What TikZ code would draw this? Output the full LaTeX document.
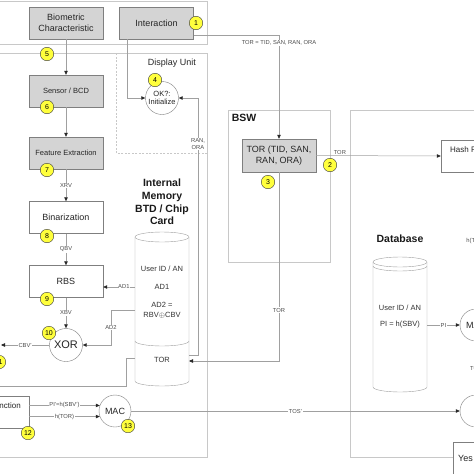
\documentclass[tikz,border=0pt]{standalone}
\usepackage{fontspec}
\setmainfont{Liberation Sans}
\usetikzlibrary{arrows.meta}

\definecolor{framegray}{HTML}{C8C8C8}
\definecolor{linegray}{HTML}{A0A0A0}
\definecolor{boxline}{HTML}{7F7F7F}
\definecolor{boxfill}{HTML}{D4D4D4}
\definecolor{dotyellow}{HTML}{FFFF3C}
\newcommand\fsz[2]{\fontsize{#1}{#2}\selectfont}

\tikzset{
  blk/.style={draw=boxline,fill=boxfill,minimum width=74pt,minimum height=32pt,inner sep=1pt,align=center,text=black!85},
  wblk/.style={blk,fill=white},
  rnd/.style={circle,draw=boxline,fill=white,minimum size=33pt,inner sep=0pt,align=center,text=black!85},
  conn/.style={draw=linegray,line width=0.5pt},
  arr/.style={conn,-{Triangle[length=4pt,width=3.5pt,color=black!85]}},
  lbl/.style={fill=white,inner sep=0.6pt,text=black!70,font=\fsz{5.8}{6.6}},
  frm/.style={draw=framegray,line width=0.7pt},
  ttl/.style={font=\bfseries\fsz{10.5}{12.6},align=center,text=black!90},
  cyltxt/.style={align=center,text=black!80,font=\fsz{7.5}{10}},
  ndot/.style={circle,draw=black!75,fill=dotyellow,minimum size=13.5pt,inner sep=0pt,font=\fsz{7}{8}},
}

\begin{document}
\begin{tikzpicture}[x=1pt,y=-1pt]
\newcommand\numdot[3]{\node[ndot] (#1) at (#2) {#3};}
\clip (0,0) rectangle (474,474);
% frames
\draw[frm] (-10,1.5) rectangle (207,44);
\draw[frm] (-10,53) rectangle (207,457);
\draw[frm,dash pattern=on 2pt off 1.5pt] (207,153) -- (116,153) -- (116,53);
\draw[frm] (228,110) rectangle (330,262);
\draw[frm] (350,110) rectangle (520,457);
\node[ttl] (bsw) at (244,118) {BSW};
\node[text=black!85,font=\fsz{9}{11}] (dunit) at (172,63) {Display Unit};
\node[ttl] (memory) at (162,202) {Internal\\Memory\\BTD / Chip\\Card};
\node[ttl] (database) at (400,239) {Database};

% internal memory
\draw[draw=linegray,fill=white] (135,237) -- (135,381) arc[start angle=180,end angle=360,x radius=27pt,y radius=5pt] -- (189,237);
\draw[draw=linegray,fill=white] (162,237) ellipse[x radius=27pt,y radius=5pt];
\draw[draw=linegray] (135,341) arc[start angle=180,end angle=360,x radius=27pt,y radius=5pt];
\coordinate (memW) at (135,0);
\coordinate (memE) at (189,0);
\node[cyltxt] (uid) at (162,269) {User ID / AN};
\node[cyltxt] (ad1) at (162,287) {AD1};
\node[cyltxt] (ad2) at (162,310) {AD2 =\\RBV$\oplus$CBV};
\node[cyltxt] (tortxt) at (162,360) {TOR};

% database
\draw[draw=linegray,fill=white] (373,262) -- (373,387) arc[start angle=180,end angle=360,x radius=27pt,y radius=5pt] -- (427,262);
\draw[draw=linegray,fill=white] (400,262) ellipse[x radius=27pt,y radius=5pt];
\draw[draw=linegray] (373,266) arc[start angle=180,end angle=360,x radius=27pt,y radius=5pt];
\coordinate (dbE) at (427,0);
\node[cyltxt] (dbuid) at (400,308) {User ID / AN};
\node[cyltxt] (dbpi) at (400,325) {PI = h(SBV)};

% blocks
\node[blk,font=\fsz{9}{11}] (bio) at (66,23) {Biometric\\Characteristic};
\node[blk,font=\fsz{9}{11}] (inter) at (156.5,23) {Interaction};
\node[blk,font=\fsz{7.5}{9}] (sensor) at (66,91) {Sensor / BCD};
\node[blk,font=\fsz{7.5}{9}] (feature) at (66,153) {Feature Extraction};
\node[wblk,font=\fsz{9}{11}] (binar) at (66,217.5) {Binarization};
\node[wblk,font=\fsz{9}{11}] (rbs) at (66,281.5) {RBS};
\node[rnd,font=\fsz{11}{13}] (xor) at (66,345) {XOR};
\node[rnd,font=\fsz{7.5}{8.5}] (okinit) at (162,98) {OK?:\\Initialize};
\node[blk,font=\fsz{9}{11},minimum height=33pt] (tor) at (279,155.5) {TOR (TID, SAN,\\RAN, ORA)};
\node[wblk,font=\fsz{8}{12},minimum width=70pt] (hashr) at (476,156) {Hash Function\\h};
\node[wblk,font=\fsz{8}{12},minimum width=68pt] (hashl) at (-5,412) {Hash Function\\h};
\node[rnd,font=\fsz{9}{11},minimum size=32pt] (macl) at (115,411) {MAC};
\node[rnd,font=\fsz{9}{11},minimum size=32pt] (macr) at (476,325) {MAC};
\node[rnd,minimum size=32pt] (cmp) at (476,411) {};
\node[wblk,anchor=north west,minimum width=50pt,text width=40pt,align=left,font=\fsz{9}{11}] (yes) at (453,442) {Yes};
\coordinate (cbvin) at (1,345);
\coordinate (torleft) at (-12,386);
\coordinate (ranout) at (189,355);
\coordinate (torin) at (189,361);

% connectors
\draw[arr] (bio) -- (sensor);
\draw[arr] (sensor) -- (feature);
\draw[arr] (feature) -- node[lbl]{XRV} (binar);
\draw[arr] (binar) -- node[lbl]{QBV} (rbs);
\draw[arr] (rbs) -- node[lbl]{XBV} (xor);
\draw[arr] (xor) -- node[lbl]{CBV'} (cbvin);
\draw[arr] (memW |- ad1) -- node[lbl,pos=0.35]{AD1} (rbs.east |- ad1);
\draw[arr] (memW |- ad2) -- ++(-24,0) |- node[lbl,pos=0.25]{AD2} (xor.east);
\draw[conn] (memW |- 0,358) -- ++(-9,0) |- (torleft);
\draw[arr] ([xshift=8pt]inter.south west) |- (okinit.west);
\draw[arr] (ranout) -- ++(9,0) |- node[lbl,pos=0.41,align=center]{RAN,\\ORA} (okinit.east);
\draw[arr] ([yshift=-12pt]inter.east) -| node[lbl,pos=0.54]{TOR = TID, SAN, RAN, ORA} (tor.north);
\draw[arr] (tor.east) -- node[lbl,above,pos=0.19,fill=none]{TOR} (hashr.west);
\draw[arr] (tor.south) |- node[lbl,pos=0.365]{TOR} (torin);
\draw[arr] (dbE |- dbpi) -- node[lbl]{PI} (macr.west);
\draw[arr] (hashr) -- node[lbl]{h(TOR)} (macr);
\draw[arr] (macr) -- node[lbl]{TOS} (cmp);
\draw[arr] (macl) -- node[lbl]{TOS'} (cmp);
\draw[arr] (macl.160 -| hashl.east) -- node[lbl]{PI'=h(SBV')} (macl.160);
\draw[arr] (macl.200 -| hashl.east) -- node[lbl]{h(TOR)} (macl.200);

% numbers
\numdot{n1}{196,23}{1}
\numdot{n2}{330,165}{2}
\numdot{n3}{268,182}{3}
\numdot{n4}{155,80}{4}
\numdot{n5}{47,54}{5}
\numdot{n6}{47,107}{6}
\numdot{n7}{47,170}{7}
\numdot{n8}{47,236}{8}
\numdot{n9}{47,299}{9}
\numdot{n10}{49,333}{10}
\numdot{n11}{-1,362}{11}
\numdot{n12}{28,433}{12}
\numdot{n13}{128,426}{13}
\end{tikzpicture}
\end{document}
